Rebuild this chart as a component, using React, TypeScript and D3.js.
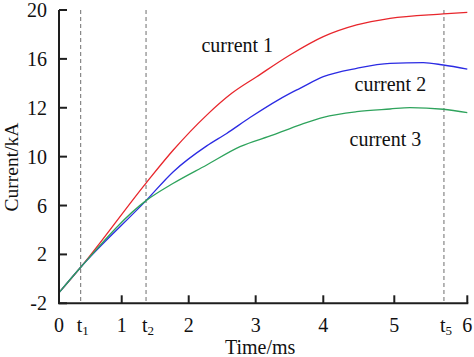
import React from 'react';
import * as d3 from 'd3';

// ---- data (time in ms, current in kA as labelled on the axes) ----
const xTicks = [0, 1, 2, 3, 4, 5, 6];
const xTickFractions = [0, 0.1536, 0.3177, 0.4817, 0.6473, 0.8212, 1];
const yTicks = [-2, 2, 6, 10, 12, 16, 20];

const markerNames = ['t1', 't2', 't5'];
const markerTimes = [0.346, 1.363, 5.68];

const current1 = [
  [0, -1.13], [0.346, 0.95], [1.363, 7.84],
  [1.77, 10.27], [2.269, 11.7], [2.642, 13.18], [3.015, 14.54], [3.507, 16.32],
  [4.0, 17.82], [4.47, 18.78], [4.94, 19.32], [5.671, 19.68], [6.0, 19.81],
];
const current2 = [
  [0, -1.13], [0.346, 0.95], [1.363, 6.4], [1.77, 8.77],
  [2.269, 10.44], [2.567, 10.95], [2.915, 11.6], [3.507, 13.18], [3.655, 13.59],
  [4.0, 14.54], [4.47, 15.23], [4.94, 15.64], [5.397, 15.69], [5.671, 15.5], [6.0, 15.17],
];
const current3 = [
  [0, -1.13], [0.346, 0.95], [1.363, 6.4], [1.77, 7.82],
  [2.269, 9.32], [2.766, 10.41], [3.26, 10.89], [3.655, 11.3], [4.0, 11.61],
  [4.47, 11.84], [4.94, 11.95], [5.215, 12.01], [5.671, 11.94], [6.0, 11.8],
];

const seriesNames = ['current 1', 'current 2', 'current 3'];
const seriesData = [current1, current2, current3];
const seriesColors = ['#e8262c', '#2b2be3', '#2ea35c'];
const labelX = [2.19, 4.44, 4.37];
const labelY = [16.59, 13.4, 10.44];

const W = 474;
const H = 357;
const margin = { top: 10, right: 6.7, bottom: 53.7, left: 59 };
const FONT = "'Liberation Serif', 'Times New Roman', serif";

export default function App() {
  const iw = W - margin.left - margin.right;
  const ih = H - margin.top - margin.bottom;
  const x = d3.scaleLinear().domain(xTicks).range(xTickFractions.map((f) => f * iw));
  const y = d3
    .scaleLinear()
    .domain(yTicks)
    .range(yTicks.map((_, i) => ih * (1 - i / (yTicks.length - 1))));
  const line = d3
    .line<number[]>()
    .x((d) => x(d[0]))
    .y((d) => y(d[1]))
    .curve(d3.curveMonotoneX);
  const axisColor = '#1e1e1e';
  const tickLen = 8;

  return (
    <svg
      width={W}
      height={H}
      style={{ position: 'absolute', left: 0, top: 0, background: '#fff' }}
      fontFamily={FONT}
    >
      <g transform={`translate(${margin.left},${margin.top})`}>
        {markerTimes.map((t, i) => (
          <line
            key={markerNames[i]}
            x1={x(t)}
            x2={x(t)}
            y1={0}
            y2={ih}
            stroke="#6e6e6e"
            strokeWidth={1}
            strokeDasharray="4,3"
          />
        ))}
        {seriesData.map((s, i) => (
          <path key={seriesNames[i]} d={line(s) || ''} fill="none" stroke={seriesColors[i]} strokeWidth={1.3} />
        ))}
        {seriesNames.map((n, i) => (
          <text key={n} x={x(labelX[i])} y={y(labelY[i])} fontSize={20} fill="#111">
            {n}
          </text>
        ))}
        {/* y axis */}
        <line x1={0} x2={0} y1={0} y2={ih} stroke={axisColor} strokeWidth={2} />
        {yTicks.map((v) => (
          <g key={v}>
            <line x1={0} x2={tickLen} y1={y(v)} y2={y(v)} stroke={axisColor} strokeWidth={2} />
            <text x={-12} y={y(v)} dy="0.35em" textAnchor="end" fontSize={20} fill="#111">
              {v}
            </text>
          </g>
        ))}
        {/* x axis */}
        <line x1={-1} x2={iw + 1} y1={ih} y2={ih} stroke={axisColor} strokeWidth={2} />
        {xTicks.map((v) => (
          <g key={v}>
            {v > 0 && <line x1={x(v)} x2={x(v)} y1={ih} y2={ih - tickLen} stroke={axisColor} strokeWidth={2} />}
            <text x={x(v)} y={ih + 29} textAnchor="middle" fontSize={20} fill="#111">
              {v}
            </text>
          </g>
        ))}
        {markerTimes.map((t, i) => (
          <text key={markerNames[i]} x={x(t) - 4} y={ih + 29} fontSize={20} fill="#111">
            t
            <tspan fontSize={13} dy={3}>
              {markerNames[i].slice(1)}
            </tspan>
          </text>
        ))}
        <text x={iw / 2 - 3} y={ih + 51} textAnchor="middle" fontSize={20} fill="#111">
          Time/ms
        </text>
      </g>
      <text transform={`translate(17.5,167) rotate(-90)`} textAnchor="middle" fontSize={19.5} fill="#111">
        Current/kA
      </text>
    </svg>
  );
}
